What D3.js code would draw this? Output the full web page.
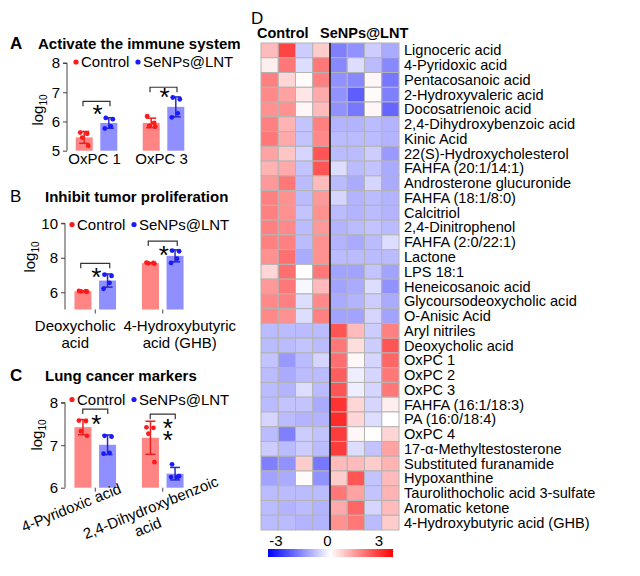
<!DOCTYPE html>
<html><head><meta charset="utf-8">
<script src="https://cdn.jsdelivr.net/npm/d3@7"></script>
<style>body{margin:0;background:#fff;} svg{font-family:"Liberation Sans",Arial,sans-serif;}</style>
</head><body><svg id="c" width="640" height="576"></svg>
<script>
// ---------- Panel data ----------
const seriesNames = ["Control", "SeNPs@LNT"];

const groupsA = ["OxPC 1", "OxPC 3"];
const ctrlPtsA = [[5.62, 5.58, 5.45, 5.17], [6.18, 5.95, 5.85, 5.82]];
const senPtsA = [[6.12, 6.08, 5.83, 5.76], [6.82, 6.76, 6.28, 6.14]];
const bracketA = [6.69, 7.17];
const starsA = [1, 1];
const ticksA = [5, 6, 7, 8];

const groupsB = [["Deoxycholic", "acid"], ["4-Hydroxybutyric", "acid (GHB)"]];
const ctrlPtsB = [[6.08, 6.06, 6.05, 6.03], [7.72, 7.70, 7.68, 7.66]];
const senPtsB = [[7.02, 6.95, 6.55, 6.20], [8.42, 8.38, 7.95, 7.70]];
const bracketB = [7.68, 8.97];
const starsB = [1, 1];
const ticksB = [6, 8, 10];

const groupsC = [["4-Pyridoxic acid"], ["2,4-Dihydroxybenzoic", "acid"]];
const ctrlPtsC = [[7.58, 7.57, 7.33, 7.22], [7.42, 7.41, 7.27, 6.60]];
const senPtsC = [[7.22, 7.20, 6.82, 6.80], [6.55, 6.27, 6.25, 6.25]];
const bracketC = [7.85, 7.73];
const starsC = [1, 2];
const ticksC = [6, 7, 8];

// ---------- Heatmap data ----------
const metabolites = ["Lignoceric acid","4-Pyridoxic acid","Pentacosanoic acid","2-Hydroxyvaleric acid",
"Docosatrienoic acid","2,4-Dihydroxybenzoic acid","Kinic Acid","22(S)-Hydroxycholesterol",
"FAHFA (20:1/14:1)","Androsterone glucuronide","FAHFA (18:1/8:0)","Calcitriol","2,4-Dinitrophenol",
"FAHFA (2:0/22:1)","Lactone","LPS 18:1","Heneicosanoic acid","Glycoursodeoxycholic acid","O-Anisic Acid",
"Aryl nitriles","Deoxycholic acid","OxPC 1","OxPC 2","OxPC 3","FAHFA (16:1/18:3)","PA (16:0/18:4)",
"OxPC 4","17-\u03b1-Methyltestosterone","Substituted furanamide","Hypoxanthine",
"Taurolithocholic acid 3-sulfate","Aromatic ketone","4-Hydroxybutyric acid (GHB)"];
const samples = ["C1","C2","C3","C4","S1","S2","S3","S4"];
const heatValues = [
[0.8,2.2,-0.6,0.6,-1.5,-1.3,-0.6,-1.0],
[0.2,1.6,-0.4,1.6,-1.4,-0.4,-0.8,-1.4],
[1.5,0.5,0.05,1.5,-1.3,-1.4,0.1,-1.6],
[1.4,1.1,0.3,1.0,-1.3,-1.9,0.05,-1.5],
[1.3,1.3,0.1,0.8,-1.3,-1.6,0.1,-1.8],
[1.5,0.9,-0.7,1.5,-0.9,-0.9,-0.8,-0.9],
[1.6,1.0,-0.7,1.4,-0.8,-0.8,-0.8,-0.9],
[1.1,0.7,-0.5,2.0,-0.8,-0.8,-0.6,-1.2],
[0.9,1.0,-0.7,2.0,-0.4,-0.8,-0.7,-1.0],
[1.2,1.6,-0.8,0.8,-0.8,-1.0,-0.5,-1.0],
[1.5,1.3,-0.8,1.2,-0.5,-0.9,-0.8,-0.9],
[1.5,1.3,-0.7,1.3,-0.8,-0.9,-0.8,-0.9],
[1.5,1.4,-0.8,1.2,-0.9,-0.8,-0.7,-0.8],
[1.5,1.5,-0.8,1.3,-0.9,-1.0,-0.8,-0.4],
[1.3,1.7,-1.0,1.3,-0.8,-0.8,-0.8,-0.8],
[0.5,1.7,0.0,1.6,-1.1,-1.1,-0.7,-1.1],
[1.2,1.6,-0.1,0.8,-1.1,-1.0,-0.4,-1.3],
[1.4,1.5,-0.4,1.4,-1.0,-0.9,-0.6,-1.0],
[1.4,1.3,-0.4,1.5,-1.1,-1.1,-0.5,-1.1],
[-0.8,-0.8,-0.8,-0.8,2.0,0.8,-0.6,1.5],
[-0.8,-0.8,-0.7,-0.8,1.6,0.4,-0.6,2.0],
[-0.7,-1.2,-0.8,-0.5,1.7,0.1,-0.5,1.8],
[-0.8,-1.0,-0.8,-0.8,1.9,-0.2,-0.5,1.6],
[-0.8,-0.9,-0.4,-0.8,2.0,-0.2,-0.5,1.6],
[-0.8,-0.7,-0.7,-1.0,2.4,0.5,-0.5,0.2],
[-0.5,-0.8,-0.9,-0.9,2.5,0.5,-0.4,0.0],
[-0.8,-1.5,-0.6,-0.7,2.3,0.1,0.0,0.5],
[-0.6,-0.8,-0.6,-0.8,2.3,-0.4,-0.7,1.1],
[-1.5,-1.3,0.6,-1.6,0.8,0.8,0.6,0.9],
[-1.1,-1.0,0.05,-1.3,0.6,2.0,-0.7,0.8],
[-0.8,-0.8,-0.8,-0.8,1.6,1.1,-0.7,0.9],
[-0.8,-0.9,-0.8,-0.9,1.0,1.8,-0.5,0.8],
[-0.8,-0.8,-0.9,-0.9,1.3,1.6,-0.8,0.6]];
const colorTicks = [-3, 0, 3];

// ---------- Drawing ----------
const svg = d3.select("#c");
const FONT = 15;
const ctrlFill = "#ff8585", senFill = "#8f8fff";
const ctrlDot = "#ff1a1a", senDot = "#1a1aff";
const ctrlErr = "#e82020", senErr = "#2a2abf";
const jitter = [-4, 3, -2, 4];
const jitterX = [-3, 4, 2, -4];

function panel(o) {
  const g = svg.append("g");
  const y = d3.scaleLinear().domain(o.domain).range(o.yRange);
  const x = d3.scaleBand().domain(d3.range(o.n)).range(o.xRange);
  const gc = i => x(i) + x.bandwidth() / 2;
  g.append("text").attr("x", 10).attr("y", o.titleY).attr("font-size", 17)
    .attr("font-weight", o.letterBold ? "bold" : "normal").text(o.letter);
  g.append("text").attr("x", o.titleX).attr("y", o.titleY).attr("font-size", 15)
    .attr("font-weight", "bold").text(o.title);
  const ax = g.append("g").attr("transform", `translate(${o.axisX},0)`)
    .call(d3.axisLeft(y).tickValues(o.ticks).tickSize(4).tickPadding(3).tickFormat(d3.format("d")));
  ax.select(".domain").attr("stroke", "#444").attr("d", `M-4,${y(o.domain[1])}H0V${y(o.domain[0])}`);
  ax.selectAll(".tick line").attr("stroke", "#444");
  ax.selectAll("text").attr("font-size", FONT).attr("font-family", "Liberation Sans, Arial, sans-serif").attr("fill", "#000");
  const yl = g.append("text").attr("transform", `translate(${o.ylabX},${o.ylabY}) rotate(-90)`)
    .attr("text-anchor", "middle").attr("font-size", FONT);
  yl.append("tspan").text("log");
  yl.append("tspan").attr("font-size", 10).attr("dy", 4).text("10");
  if (o.xticks) {
    d3.range(o.n).forEach(i => g.append("line").attr("x1", gc(i)).attr("x2", gc(i))
      .attr("y1", y(o.domain[0])).attr("y2", y(o.domain[0]) + 4).attr("stroke", "#444"));
  }
  const series = [{pts: o.ctrl, off: -12.3, fill: ctrlFill, dot: ctrlDot, err: ctrlErr},
                  {pts: o.sen, off: 12.3, fill: senFill, dot: senDot, err: senErr}];
  series.forEach(s => {
    s.pts.forEach((p, i) => {
      const m = d3.mean(p), sd = d3.deviation(p);
      const cx = gc(i) + s.off, bw = 17;
      g.append("rect").attr("x", cx - bw / 2).attr("width", bw)
        .attr("y", y(m)).attr("height", y(o.domain[0]) - y(m)).attr("fill", s.fill);
      g.append("line").attr("x1", cx).attr("x2", cx).attr("y1", y(m - sd)).attr("y2", y(m + sd))
        .attr("stroke", s.err).attr("stroke-width", 1.5);
      [m - sd, m + sd].forEach(v => g.append("line").attr("x1", cx - 5).attr("x2", cx + 5)
        .attr("y1", y(v)).attr("y2", y(v)).attr("stroke", s.err).attr("stroke-width", 1.5));
      p.forEach((v, k) => g.append("circle").attr("cx", cx + (s.off < 0 ? jitter[k] : jitterX[k]))
        .attr("cy", y(v)).attr("r", 2.4).attr("fill", s.dot));
    });
  });
  o.bracket.forEach((b, i) => {
    const c = gc(i), hw = o.bhw, yt = y(b);
    g.append("path").attr("d", `M${c - hw},${yt + 5}V${yt}H${c + hw}V${yt + 5}`)
      .attr("fill", "none").attr("stroke", "#333").attr("stroke-width", 1.2);
    const sx = c + (o.stars[i] > 1 ? 5 : 1);
    const st = g.append("text").attr("text-anchor", "middle").attr("font-size", 26);
    for (let k = 0; k < o.stars[i]; k++) {
      st.append("tspan").attr("x", sx).attr("y", yt + o.starDy[i] + 13 + k * 12).text("*");
    }
  });
  let lx = o.legX;
  seriesNames.forEach((nm, k) => {
    g.append("circle").attr("cx", lx).attr("cy", o.legY - 5).attr("r", 2.6).attr("fill", k ? senDot : ctrlDot);
    g.append("text").attr("x", lx + 5).attr("y", o.legY).attr("font-size", FONT).text(nm);
    lx += 62;
  });
  return {g, gc, y};
}

// Panel A
const pA = panel({letter: "A", letterBold: true, title: "Activate the immune system", titleX: 38, titleY: 49,
  domain: [5, 8], yRange: [150.7, 63], xRange: [63, 197], n: 2, axisX: 67, ticks: ticksA,
  ylabX: 43, ylabY: 110, ctrl: ctrlPtsA, sen: senPtsA, bracket: bracketA, stars: starsA, starDy: [9, 6],
  bhw: 13.5, legX: 76, legY: 67, xticks: false});
groupsA.forEach((t, i) => pA.g.append("text").attr("x", pA.gc(i) - 2).attr("y", 164)
  .attr("text-anchor", "middle").attr("font-size", FONT).text(t));

// Panel B
const pB = panel({letter: "B", letterBold: false, title: "Inhibit tumor proliferation", titleX: 45, titleY: 202,
  domain: [5, 10], yRange: [309.5, 223.3], xRange: [61.5, 196.5], n: 2, axisX: 65, ticks: ticksB,
  ylabX: 35, ylabY: 257, ctrl: ctrlPtsB, sen: senPtsB, bracket: bracketB, stars: starsB, starDy: [10, 10],
  bhw: 14.5, legX: 72, legY: 229.5, xticks: true});
const labOffB = [-20, 17];
groupsB.forEach((lines, i) => lines.forEach((t, k) => pB.g.append("text")
  .attr("x", pB.gc(i) + labOffB[i]).attr("y", 331 + k * 17).attr("text-anchor", "middle")
  .attr("font-size", FONT).text(t)));

// Panel C
const pC = panel({letter: "C", letterBold: true, title: "Lung cancer markers", titleX: 45, titleY: 381,
  domain: [6, 8], yRange: [487.7, 402.7], xRange: [61.5, 196.5], n: 2, axisX: 65, ticks: ticksC,
  ylabX: 42, ylabY: 435, ctrl: ctrlPtsC, sen: senPtsC, bracket: bracketC, stars: starsC, starDy: [11, 10],
  bhw: 12.5, legX: 72, legY: 404.5, xticks: true});
const labPosC = [[-24, 20], [-12, 20]];
groupsC.forEach((lines, i) => {
  const gl = pC.g.append("g").attr("transform", `translate(${pC.gc(i) + labPosC[i][0]},${pC.y(6) + labPosC[i][1]}) rotate(-22)`);
  lines.forEach((t, k) => gl.append("text").attr("x", k ? -10 : 0).attr("y", k * 17 + 5)
    .attr("text-anchor", "middle").attr("font-size", FONT).text(t));
});

// ---------- Heatmap D ----------
const hx = d3.scaleBand().domain(samples).range([261, 399]);
const hy = d3.scaleBand().domain(metabolites).range([43, 530]);
const color = d3.scaleLinear().domain([-3, 0, 3]).range(["#0000ff", "#ffffff", "#ff0000"]).clamp(true);
const hg = svg.append("g");
hg.append("text").attr("x", 251).attr("y", 24).attr("font-size", 17).text("D");
hg.append("text").attr("x", 257).attr("y", 38).attr("font-size", 14.5).attr("font-weight", "bold").text("Control");
hg.append("text").attr("x", 320).attr("y", 38).attr("font-size", 14.5).attr("font-weight", "bold").text("SeNPs@LNT");
metabolites.forEach((m, r) => {
  samples.forEach((s, c) => {
    hg.append("rect").attr("x", hx(s)).attr("y", hy(m)).attr("width", hx.bandwidth()).attr("height", hy.bandwidth())
      .attr("fill", color(heatValues[r][c])).attr("stroke", "#b4b4b4").attr("stroke-width", 1);
  });
  hg.append("text").attr("x", 404).attr("y", hy(m) + hy.bandwidth() / 2 + 5).attr("font-size", 14.6).text(m);
});
hg.append("line").attr("x1", hx("S1")).attr("x2", hx("S1")).attr("y1", 43).attr("y2", 530)
  .attr("stroke", "#111").attr("stroke-width", 1.5);

const defs = svg.append("defs");
const grad = defs.append("linearGradient").attr("id", "cb");
d3.range(0, 1.0001, 0.05).forEach(t => grad.append("stop").attr("offset", t)
  .attr("stop-color", color(-3 + 6 * t)));
const cbScale = d3.scaleLinear().domain([-3, 3]).range([276, 379]);
hg.append("rect").attr("x", 268).attr("y", 549).attr("width", 125).attr("height", 8).attr("fill", "url(#cb)");
colorTicks.forEach(t => hg.append("text").attr("x", cbScale(t)).attr("y", 546)
  .attr("text-anchor", "middle").attr("font-size", FONT).text(t));
</script></body></html>
